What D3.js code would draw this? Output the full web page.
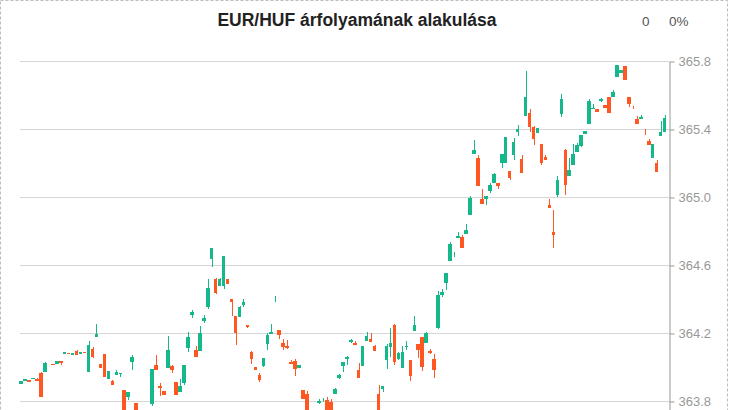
<!DOCTYPE html>
<html><head><meta charset="utf-8">
<script src="https://cdn.jsdelivr.net/npm/d3@7"></script>
<style>
html,body{margin:0;padding:0;background:#fff;overflow:hidden}
svg{display:block;font-family:"Liberation Sans",Arial,sans-serif}
</style></head><body>
<svg id="c" width="730" height="410"></svg>
<script>
const title = "EUR/HUF árfolyamának alakulása";
const changeAbs = "0";
const changePct = "0%";
const tickLabels = [363.8, 364.2, 364.6, 365.0, 365.4, 365.8];

const openVals = [363.902,363.919,363.924,363.929,363.929,363.965,363.972,364.02,364.018,364.019,
364.035,364.078,364.082,364.072,364.094,364.078,364.088,363.972,364.106,364.178,
364.018,364.076,363.929,363.918,363.955,363.959,363.865,363.825,364.029,363.788,
363.700,363.660,363.680,363.782,364.012,363.890,363.859,363.996,364.006,363.912,
363.855,363.904,364.114,364.308,364.100,364.094,364.272,364.355,364.634,364.518,
364.478,364.478,364.518,364.400,364.300,364.296,364.365,364.245,364.090,363.998,
363.953,364.008,364.137,364.196,364.400,364.218,364.141,364.124,364.029,364.035,
363.996,363.865,363.841,363.700,363.660,363.788,363.800,363.806,363.794,363.841,
363.935,364.006,364.049,364.147,364.143,363.982,364.008,364.151,364.165,364.124,
363.841,363.872,364.041,364.119,364.247,364.049,363.994,364.120,364.041,364.212,
364.135,364.176,364.141,364.094,364.047,364.229,364.424,364.494,364.624,364.660,
364.759,364.765,364.782,364.894,365.253,365.229,364.988,364.988,365.035,365.082,
365.082,365.200,365.200,365.153,365.247,365.382,365.224,365.476,365.494,365.412,
365.376,365.312,365.235,364.953,364.794,365.012,365.488,365.276,365.124,365.188,
365.265,365.302,365.371,365.429,365.518,365.518,365.566,365.541,365.588,365.588,
365.708,365.729,365.771,365.588,365.528,365.461,365.461,365.385,365.329,365.231,
365.200,365.361,365.384];

const highVals = [363.918,363.929,363.924,363.935,363.937,363.971,364.029,364.02,364.018,364.035,
364.035,364.088,364.082,364.082,364.100,364.088,364.088,364.153,364.118,364.253,
364.018,364.076,363.976,363.924,363.982,363.966,363.865,363.851,364.071,363.788,
363.720,363.700,363.745,363.988,364.071,363.908,363.859,364.182,364.014,363.912,
363.928,364.012,364.206,364.334,364.124,364.241,364.304,364.518,364.700,364.525,
364.525,364.653,364.518,364.400,364.300,364.361,364.400,364.245,364.096,363.998,
363.965,364.051,364.198,364.253,364.418,364.218,364.163,364.159,364.041,364.047,
364.012,363.865,363.859,363.740,363.745,363.812,363.818,363.824,363.812,363.878,
363.961,364.029,364.066,364.165,364.153,364.025,364.124,364.206,364.202,364.129,
363.894,363.888,364.135,364.229,364.253,364.088,364.124,364.153,364.041,364.300,
364.135,364.176,364.206,364.106,364.076,364.447,364.459,364.553,364.735,364.676,
364.794,364.776,364.841,365.006,365.335,365.247,365.047,365.006,365.082,365.141,
365.082,365.253,365.353,365.153,365.347,365.424,365.247,365.741,365.518,365.418,
365.406,365.312,365.247,364.988,364.924,365.124,365.606,365.282,365.229,365.312,
365.318,365.365,365.388,365.578,365.547,365.518,365.584,365.541,365.588,365.631,
365.776,365.747,365.771,365.588,365.535,365.478,365.482,365.402,365.341,365.312,
365.218,365.447,365.482];

const lowVals = [363.902,363.919,363.914,363.929,363.919,363.825,363.972,364.02,364.014,364.019,
364.014,364.078,364.078,364.072,364.072,364.078,364.084,363.972,364.055,364.178,
363.996,363.943,363.929,363.896,363.955,363.943,363.700,363.806,363.982,363.680,
363.640,363.630,363.660,363.772,363.982,363.831,363.835,363.996,363.966,363.835,
363.855,363.894,364.088,364.290,364.061,364.094,364.261,364.341,364.590,364.428,
364.478,364.461,364.490,364.302,364.131,364.296,364.355,364.232,364.018,363.984,
363.914,364.002,364.100,364.196,364.384,364.166,364.100,364.104,364.019,363.947,
363.996,363.812,363.680,363.630,363.640,363.782,363.796,363.690,363.700,363.841,
363.929,363.971,364.012,364.141,364.131,363.937,364.008,364.151,364.147,364.096,
363.690,363.855,363.990,364.061,364.012,364.041,363.994,364.100,363.919,364.212,
364.053,363.978,364.141,364.076,363.935,364.224,364.412,364.453,364.624,364.647,
364.759,364.700,364.782,364.894,365.253,365.065,364.959,364.953,365.024,365.082,
365.047,365.171,365.200,365.100,365.218,365.359,365.141,365.476,365.382,365.306,
365.376,365.188,365.218,364.935,364.700,365.000,365.471,365.012,365.124,365.188,
365.265,365.294,365.371,365.429,365.518,365.500,365.561,365.522,365.496,365.588,
365.708,365.729,365.690,365.529,365.519,365.431,365.461,365.365,365.308,365.231,
365.147,365.361,365.384];

const closeVals = [363.918,363.929,363.914,363.935,363.919,363.825,364.024,364.02,364.014,364.035,
364.024,364.088,364.078,364.082,364.072,364.088,364.084,364.129,364.061,364.196,
363.996,363.943,363.976,363.896,363.971,363.966,363.720,363.851,364.059,363.700,
363.660,363.680,363.740,363.988,363.982,363.878,363.835,364.100,363.982,363.835,
363.890,364.012,364.178,364.325,364.061,364.198,364.290,364.466,364.700,364.434,
364.516,364.653,364.490,364.384,364.198,364.353,364.382,364.237,364.047,363.984,
363.924,364.051,364.188,364.206,364.401,364.188,364.119,364.112,364.019,363.988,
364.012,363.812,363.700,363.660,363.740,363.800,363.801,363.700,363.720,363.871,
363.953,364.029,364.061,364.159,364.131,363.937,364.124,364.182,364.147,364.096,
363.700,363.888,364.124,364.141,364.031,364.081,364.088,364.121,363.947,364.247,
364.100,364.000,364.200,364.082,363.982,364.424,364.441,364.553,364.724,364.661,
364.771,364.700,364.806,364.994,365.276,365.065,364.959,365.006,365.071,365.135,
365.065,365.253,365.353,365.112,365.324,365.400,365.141,365.588,365.412,365.341,
365.406,365.200,365.218,364.935,364.776,365.100,365.576,365.071,365.159,365.253,
365.306,365.365,365.388,365.565,365.524,365.500,365.576,365.522,365.496,365.618,
365.776,365.747,365.690,365.549,365.527,365.431,365.472,365.384,365.308,365.312,
365.147,365.382,365.465];

const categories = openVals.map((d, i) => i);
const data = categories.map(i => ({i, o: openVals[i], h: highVals[i], l: lowVals[i], c: closeVals[i]}));

const UP = "#16b78b", DOWN = "#ff5722";
const svg = d3.select("#c");
const plotLeft = 20, axisX = 669;

const x = d3.scaleBand().domain(categories).range([19, 666.6]).padding(0);
const y = d3.scaleLinear().domain([363.4, 365.8]).range([469, 61]);

// frame
svg.append("rect").attr("x", 0.5).attr("y", 0.5).attr("width", 727).attr("height", 440)
  .attr("fill", "none").attr("stroke", "#bdbdbd").attr("stroke-dasharray", "3,2");

// grid
svg.append("g").selectAll("line").data(tickLabels).join("line")
  .attr("x1", plotLeft).attr("x2", axisX)
  .attr("y1", d => Math.round(y(d)) + 0.5).attr("y2", d => Math.round(y(d)) + 0.5)
  .attr("stroke", "#d6d6d6").attr("stroke-width", 1);

// axis
const ax = svg.append("g").attr("transform", `translate(${axisX + 0.5},0.5)`)
  .call(d3.axisRight(y).tickValues(tickLabels).tickFormat(d3.format(".1f")).tickSize(5).tickSizeOuter(0).tickPadding(4));
ax.select(".domain").attr("stroke", "#999");
ax.selectAll(".tick line").attr("stroke", "#999");
ax.selectAll(".tick text").attr("fill", "#999").style("font-size", "13px").style("font-family", "Liberation Sans, Arial, sans-serif");

// candles
const bw = x.bandwidth();
const bodyW = bw * 0.9;
const cg = svg.append("g");
const col = d => d.c >= d.o ? UP : DOWN;
const cx = d => x(d.i) + bw / 2;

cg.selectAll("line.wick").data(data).join("line").attr("class", "wick")
  .attr("x1", d => Math.round(cx(d)) + 0.5).attr("x2", d => Math.round(cx(d)) + 0.5)
  .attr("y1", d => y(d.h)).attr("y2", d => y(d.l))
  .attr("stroke", col).attr("stroke-width", 1).attr("shape-rendering", "crispEdges");

cg.selectAll("rect.body").data(data).join("rect").attr("class", "body")
  .attr("x", d => cx(d) - bodyW / 2).attr("width", bodyW)
  .attr("y", d => y(Math.max(d.o, d.c)))
  .attr("height", d => { const h = Math.abs(y(d.o) - y(d.c)); return h > 0.3 ? Math.max(1, h) : h; })
  .attr("fill", col).attr("shape-rendering", "crispEdges");

// title and change
svg.append("text").attr("x", 357).attr("y", 26).attr("text-anchor", "middle")
  .style("font-size", "17.5px").style("font-weight", "bold").attr("fill", "#222").text(title);
svg.append("text").attr("x", 642).attr("y", 26).style("font-size", "13.5px").attr("fill", "#555").text(changeAbs);
svg.append("text").attr("x", 669).attr("y", 26).style("font-size", "13.5px").attr("fill", "#555").text(changePct);
</script>
</body></html>
